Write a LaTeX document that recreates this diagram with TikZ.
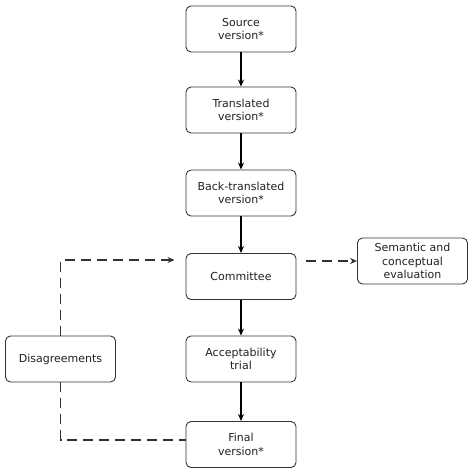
\documentclass[tikz,border=0pt]{standalone}
\usepackage{fontspec}
\setmainfont{DejaVu Sans}
\usetikzlibrary{arrows.meta,calc}
\definecolor{boxGrey}{rgb}{0.2, 0.2, 0.2}
\definecolor{textGrey}{rgb}{0.13, 0.13, 0.13}

\begin{document}
\begin{tikzpicture}[x=1pt,y=1pt,
        box/.style={draw=boxGrey, line width=0.9pt, rounded corners=5pt,
            minimum width=110pt, minimum height=46pt, align=center,
            text=textGrey, font=\fontsize{11}{13.5}\selectfont},
        flow/.style={line width=1.2pt, draw=black, -{Stealth[length=7pt,width=6pt]}},
        loop/.style={line width=1.2pt, draw=boxGrey, dash pattern=on 10pt off 6pt,
            -{Stealth[length=7pt,width=6pt]}}]
        \useasboundingbox (0,0) rectangle (474,474);

        % main column
        \node[box] (source) at (241,445) {Source\\version*};
        \node[box] (translated) at (241,364) {Translated\\version*};
        \node[box] (back) at (241,281) {Back-translated\\version*};
        \node[box] (committee) at (241,197.5) {Committee};
        \node[box] (trial) at (241,115) {Acceptability\\trial};
        \node[box] (final) at (241,29.5) {Final\\version*};

        % side boxes
        \node[box] (disagree) at (60.5,115) {Disagreements};
        \node[box] (semantic) at (412.5,213) {Semantic and\\conceptual\\evaluation};

        % solid arrows
        \draw[flow] (source) -- (translated);
        \draw[flow] (translated) -- (back);
        \draw[flow] (back) -- (committee);
        \draw[flow] (committee) -- (trial);
        \draw[flow] (trial) -- (final);

        % dashed lines
        \draw[loop] ($(committee.east |- semantic.west)+(10pt,0)$) -- (semantic.west);
        \draw[loop] (disagree.north) |- ($(committee.west)+(-11pt,16.5pt)$);
        \draw[loop, -] (disagree.south) |- ($(final.west)+(0,4.5pt)$);
\end{tikzpicture}
\end{document}
